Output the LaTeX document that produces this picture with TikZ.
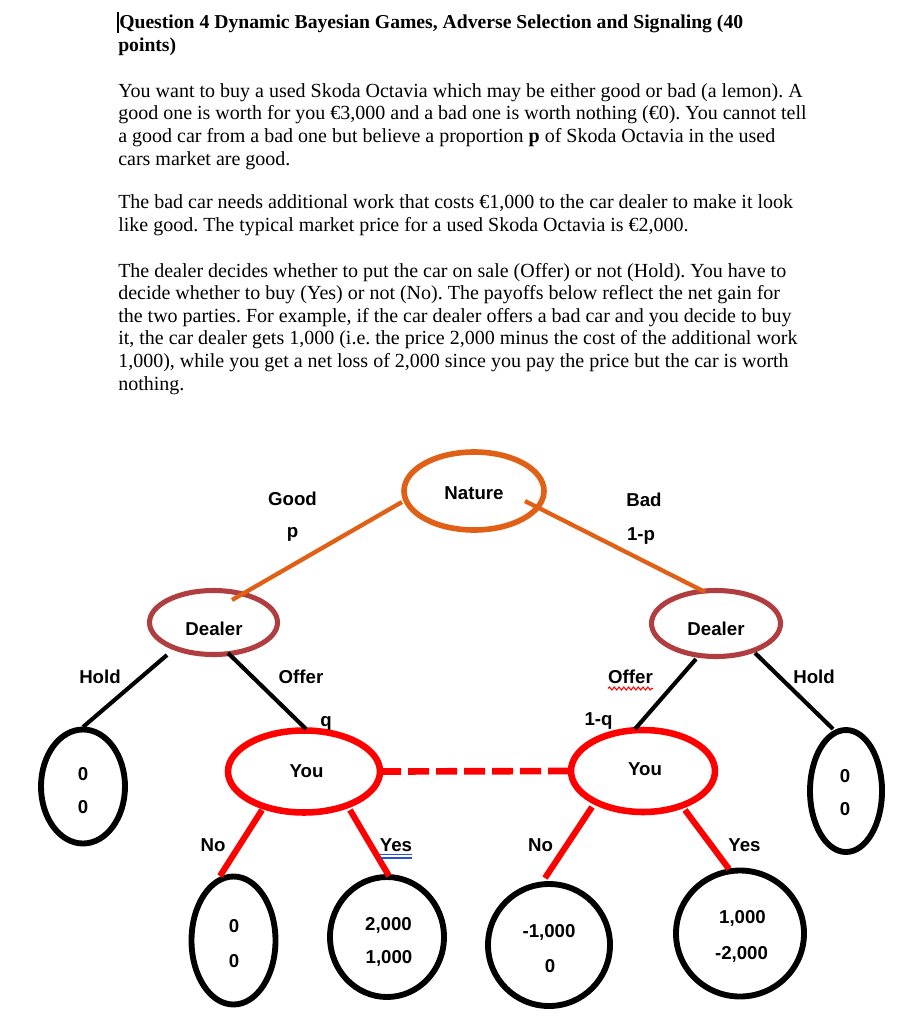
\documentclass[tikz,border=0pt]{standalone}
\usepackage{fontspec}
\setmainfont{Liberation Serif}
\newfontfamily\arialf{Liberation Sans}
\usetikzlibrary{shapes.geometric,calc,decorations.pathmorphing}
\definecolor{natorange}{RGB}{224,96,22}
\definecolor{dealerred}{RGB}{176,62,64}
\definecolor{youred}{RGB}{255,0,0}
\definecolor{gblue}{RGB}{40,80,220}
\frenchspacing
\begin{document}
\begin{tikzpicture}[x=0.75pt,y=-0.75pt,
 txt/.style={anchor=base west,inner sep=0pt,font=\fontsize{15}{18}\selectfont},
 ttl/.style={anchor=base west,inner sep=0pt,font=\fontsize{14.75}{18}\selectfont\bfseries},
 lbl/.style={anchor=base,inner sep=0pt,font=\arialf\bfseries\fontsize{14}{16}\selectfont},
 nd/.style={ellipse,inner sep=0pt,outer sep=0pt},
 natnode/.style={nd,draw=natorange,line width=4.2pt},
 dealnode/.style={nd,draw=dealerred,line width=3.8pt},
 younode/.style={nd,draw=youred,line width=4.9pt},
 leaf/.style={nd,draw=black,line width=4.4pt},
 oline/.style={draw=natorange,line width=3.2pt},
 bline/.style={draw=black,line width=3.1pt},
 rline/.style={draw=youred,line width=4.6pt},
 infoset/.style={draw=youred,line width=5pt,dash pattern=on 15.75pt off 5.25pt}]
\fill[white] (0,0) rectangle (916,1030);
\useasboundingbox (0,0) rectangle (916,1030);

% ---------- text ----------
\coordinate (cur1) at (118,12);
\coordinate (cur2) at (118,33);
\draw[line width=0.9pt] (cur1) -- (cur2);
\node[ttl] (t1) at (119,29) {Question 4 Dynamic Bayesian Games, Adverse Selection and Signaling (40};
\node[ttl] (t2) at (118,52) {points)};
\node[txt] (p11) at (118,97.3) {You want to buy a used Skoda Octavia which may be either good or bad (a lemon). A};
\node[txt] (p12) at (118,120) {good one is worth for you €3,000 and a bad one is worth nothing (€0). You cannot tell};
\node[txt] (p13) at (118,142.7) {a good car from a bad one but believe a proportion \textbf{p} of Skoda Octavia in the used};
\node[txt] (p14) at (118,165.3) {cars market are good.};
\node[txt] (p21) at (118,209) {The bad car needs additional work that costs €1,000 to the car dealer to make it look};
\node[txt] (p22) at (118,231.6) {like good. The typical market price for a used Skoda Octavia is €2,000.};
\node[txt] (p31) at (118,277) {The dealer decides whether to put the car on sale (Offer) or not (Hold). You have to};
\node[txt] (p32) at (118,299.6) {decide whether to buy (Yes) or not (No). The payoffs below reflect the net gain for};
\node[txt] (p33) at (118,322.2) {the two parties. For example, if the car dealer offers a bad car and you decide to buy};
\node[txt] (p34) at (118,344.8) {it, the car dealer gets 1,000 (i.e. the price 2,000 minus the cost of the additional work};
\node[txt] (p35) at (118,367.4) {1,000), while you get a net loss of 2,000 since you pay the price but the car is worth};
\node[txt] (p36) at (118,390) {nothing.};

% ---------- nodes (ellipses) ----------
\node[natnode,minimum width=105pt,minimum height=58.5pt] (nat) at (474,491) {};
\node[dealnode,minimum width=96pt,minimum height=48pt] (dL) at (213.5,622.5) {};
\node[dealnode,minimum width=96.75pt,minimum height=49.5pt] (dR) at (716,623.5) {};
\node[younode,minimum width=114pt,minimum height=61.5pt] (yL) at (304,771.5) {};
\node[younode,minimum width=108pt,minimum height=61.5pt] (yR) at (643,771) {};
\node[leaf,minimum width=63pt,minimum height=85.5pt] (hL) at (83,786.5) {};
\node[leaf,minimum width=54pt,minimum height=91.5pt] (hR) at (846,791) {};
\node[leaf,minimum width=63pt,minimum height=96pt] (lLN) at (233.5,940.5) {};
\node[leaf,minimum width=85.5pt,minimum height=90pt] (lLY) at (387,937) {};
\node[leaf,minimum width=91.5pt,minimum height=91.5pt] (lRN) at (549,945) {};
\node[leaf,minimum width=96pt,minimum height=94.5pt] (lRY) at (740,933.5) {};

% ---------- node texts ----------
\node[lbl] (natT) at (474,499) {Nature};
\node[lbl] (dLT) at (214,635) {Dealer};
\node[lbl] (dRT) at (716,635) {Dealer};
\node[lbl] (yLT) at (306.5,777) {You};
\node[lbl] (yRT) at (645,775) {You};
\node[lbl] (hLa) at (83,780) {0};
\node[lbl] (hLb) at (83,813) {0};
\node[lbl] (hRa) at (845,782) {0};
\node[lbl] (hRb) at (845,815) {0};
\node[lbl] (lLNa) at (234,932) {0};
\node[lbl] (lLNb) at (234,967) {0};
\node[lbl] (lLYa) at (388.5,930) {2,000};
\node[lbl] (lLYb) at (389,963) {1,000};
\node[lbl] (lRNa) at (549,937) {-1,000};
\node[lbl] (lRNb) at (550,972) {0};
\node[lbl] (lRYa) at (742.5,923) {1,000};
\node[lbl] (lRYb) at (741.5,959) {-2,000};

% ---------- connectors ----------
\draw[oline] ($(nat.center)+(-72,11)$) -- ($(dL.center)+(18.5,-22.5)$);
\draw[oline] ($(nat.center)+(51,10)$) -- ($(dR.center)+(-11,-31.5)$);
\draw[bline] ($(dL.center)+(-46.5,32.5)$) -- ($(hL.center)+(0,-59.5)$);
\draw[bline] ($(dL.center)+(14.5,30.5)$) -- ($(yL.center)+(2,-42.5)$);
\draw[bline] ($(dR.center)+(-20,35.5)$) -- ($(yR.center)+(-8,-42)$);
\draw[bline] ($(dR.center)+(39,29.5)$) -- ($(hR.center)+(-13,-62)$);
\draw[rline] ($(yL.center)+(-42,38.5)$) -- ($(lLN.center)+(-13.5,-64.5)$);
\draw[rline] ($(yL.center)+(46,38.5)$) -- ($(lLY.center)+(2,-61)$);
\draw[rline] ($(yR.center)+(-51,36)$) -- ($(lRN.center)+(-4,-67)$);
\draw[rline] ($(yR.center)+(42,39)$) -- ($(lRY.center)+(-11,-64.5)$);
\draw[infoset] (yL.east) -- (yR.west);

% ---------- edge labels ----------
\node[lbl] (good) at (292.5,505) {Good};
\node[lbl] (pp) at (292.5,537.5) {p};
\node[lbl] (bad) at (644,506.5) {Bad};
\node[lbl] (omp) at (641,540) {1-p};
\node[lbl] (holdL) at (100,683) {Hold};
\node[lbl] (offL) at (301,683) {Offer};
\node[lbl] (qq) at (326,726) {q};
\node[lbl] (offR) at (630.5,683) {Offer};
\node[lbl] (omq) at (598.5,725) {1-q};
\node[lbl] (holdR) at (814,683) {Hold};
\node[lbl] (noL) at (213,851.5) {No};
\node[lbl] (yesL) at (396,851) {Yes};
\node[lbl] (noR) at (540.5,851) {No};
\node[lbl] (yesR) at (744.5,851) {Yes};

% proofing marks
\draw[youred,line width=0.8pt,decorate,decoration={snake,amplitude=1.1pt,segment length=3.6pt}]
  ($(offR.base west)+(0,5.5)$) -- ($(offR.base east)+(0,5.5)$);
\draw[gblue,line width=1pt] ($(yesL.base west)+(0,3.5)$) -- ($(yesL.base east)+(0,3.5)$);
\draw[gblue,line width=1pt] ($(yesL.base west)+(0,7)$) -- ($(yesL.base east)+(0,7)$);
\end{tikzpicture}
\end{document}
